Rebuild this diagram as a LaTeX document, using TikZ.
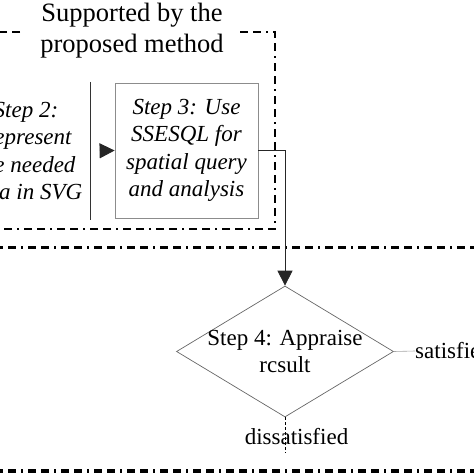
\documentclass[tikz,border=0pt]{standalone}
\usepackage{fontspec}
\setmainfont{Liberation Serif}
\usetikzlibrary{shapes.geometric,arrows.meta}
\begin{document}
\begin{tikzpicture}[x=1pt,y=-1pt,
  body/.style={font=\fontsize{23}{27.5}\selectfont, align=center, inner sep=0pt},
  bodyit/.style={font=\fontsize{23}{27.5}\selectfont\itshape, align=center, inner sep=0pt},
  dashdot/.style={dash pattern=on 8pt off 5pt on 8pt off 5pt on 2pt off 5pt},
  laneline/.style={dashdot, line width=3pt},
  boxline/.style={dashdot, line width=2.5pt},
  conn/.style={line width=0.8pt, black!85},
  bigtip/.style={-{Triangle[length=15pt,width=15pt]}}]
\useasboundingbox (0,0) rectangle (474,474);
% lane separators
\draw[laneline] (-5,247) -- (480,247);
\draw[laneline, line width=4pt] (-5,471) -- (480,471);
% supported-by box
\node[font=\fontsize{26.5}{31}\selectfont, align=center, inner sep=0pt] (title) at (132,30.5) {Supported by the\\proposed method};
\draw[boxline] (20,32) -- (-10,32);
\draw[boxline] (240,32) -- (275,32) -- (275,229) -- (-10,229);
% steps
\node[bodyit, minimum width=128pt, minimum height=138pt] (s2) at (26,151) {Step 2:\\Represent\\the needed\\data in SVG};
\draw[line width=1pt, black!80] (s2.north east) -- (s2.south east);
\node[bodyit, draw=black!45, line width=0.8pt, minimum width=143pt, minimum height=135pt] (s3) at (186.5,150.5) {Step 3: Use\\SSESQL for\\spatial query\\and analysis};
\node[diamond, draw=black!60, line width=0.7pt, minimum width=217pt, minimum height=131pt, inner sep=0pt,
  label={[body]center:{Step 4: Appraise\\rcsult}}] (d) at (285,351.5) {};
\node[body, anchor=west] (sat) at (415,351) {satisfied};
\node[body] (dis) at (296.5,437) {dissatisfied};
\coordinate (disend) at (285,453);
% connectors
\draw[conn, bigtip, shorten <=10pt] (s2.east) -- (s3.west);
\draw[conn, bigtip] (s3.east) -| (d.north);
\draw[line width=0.6pt, black!35] (d.east) -- (sat.west);
\draw[line width=0.6pt, densely dashed] (d.south) -- (disend);
\end{tikzpicture}
\end{document}
